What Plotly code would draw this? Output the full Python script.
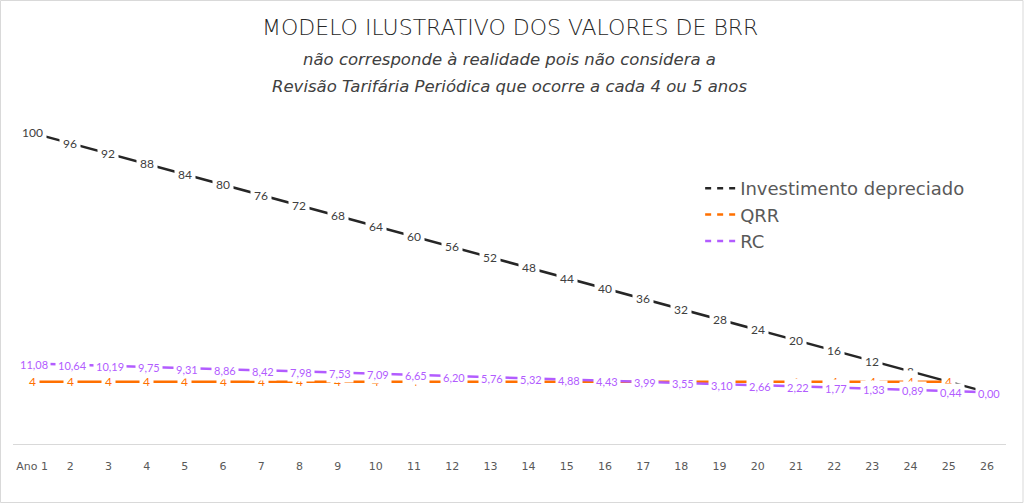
import plotly.graph_objects as go

anos = ["Ano 1"] + [str(i) for i in range(2, 27)]
investimento = [100, 96, 92, 88, 84, 80, 76, 72, 68, 64, 60, 56, 52, 48, 44, 40, 36, 32, 28, 24, 20, 16, 12, 8, 4, 0]
qrr = [4] * 25
rc = [11.08, 10.64, 10.19, 9.75, 9.31, 8.86, 8.42, 7.98, 7.53, 7.09, 6.65, 6.20, 5.76, 5.32, 4.88,
      4.43, 3.99, 3.55, 3.10, 2.66, 2.22, 1.77, 1.33, 0.89, 0.44, 0.00]
inv_labels_shown = 24  # labels for last points are hidden in the original

C_BLACK = "#262626"
C_ORANGE = "#FF7000"
C_PURPLE = "#B25CFF"
FONT = "Lato"
WIDE = "DejaVu Sans"

fig = go.Figure()
series = [
    ("Investimento depreciado", anos, investimento, C_BLACK),
    ("QRR", anos[:len(qrr)], qrr, C_ORANGE),
    ("RC", anos, rc, C_PURPLE),
]
for i, (name, xs, ys, col) in enumerate(series):
    # plotted line (the white label boxes cut it into dashes)
    fig.add_trace(go.Scatter(
        x=xs, y=ys, name=name, mode="lines",
        line=dict(color=col, width=2.5),
        showlegend=False, hoverinfo="skip",
    ))
    # legend entry with dashed symbol
    fig.add_trace(go.Scatter(
        x=[None], y=[None], name=name, mode="lines",
        line=dict(color=col, width=2.5, dash="6px,6px"),
        legendgroup=f"g{i}", showlegend=True, hoverinfo="skip",
    ))

# annotations on a category axis: use the category index as position
annotations = []
for i, y in enumerate(investimento[:inv_labels_shown]):
    annotations.append(dict(x=i, y=y, text=f"{y:g}", showarrow=False,
                            font=dict(family=FONT, size=12, color="#404040"),
                            bgcolor="white", borderpad=3))
for i, y in enumerate(qrr):
    annotations.append(dict(x=i, y=y, text=f"{y:g}", showarrow=False,
                            font=dict(family=FONT, size=12, color=C_ORANGE),
                            bgcolor="white", borderpad=3))
for i, y in enumerate(rc):
    annotations.append(dict(x=i, y=y, text=f"{y:.2f}".replace(".", ","), showarrow=False,
                            font=dict(family=FONT, size=11, color=C_PURPLE),
                            bgcolor="white", borderpad=2, xshift=2, yshift=-1))

# titles
annotations.append(dict(xref="paper", yref="paper", x=0.5, y=(444 - 27) / 363, xanchor="center",
                        yanchor="middle", showarrow=False,
                        text="MODELO ILUSTRATIVO DOS VALORES DE BRR",
                        font=dict(family=WIDE, size=22, color="#262626", weight=200)))
annotations.append(dict(xref="paper", yref="paper", x=0.5, y=(444 - 59) / 363, xanchor="center",
                        yanchor="middle", showarrow=False,
                        text="<i>não corresponde à realidade pois não considera a</i>",
                        font=dict(family=WIDE, size=16.5, color="#404040")))
annotations.append(dict(xref="paper", yref="paper", x=0.5, y=(444 - 87) / 363, xanchor="center",
                        yanchor="middle", showarrow=False,
                        text="<i>Revisão Tarifária Periódica que ocorre a cada 4 ou 5 anos</i>",
                        font=dict(family=WIDE, size=16.5, color="#404040")))

fig.update_layout(
    width=1024, height=503,
    margin=dict(l=13, r=18, t=81, b=59),
    paper_bgcolor="white", plot_bgcolor="white",
    font=dict(family=FONT, color="#595959"),
    annotations=annotations,
    showlegend=True,
    legend=dict(x=0.692, y=0.755, xanchor="left", yanchor="top",
                font=dict(family=WIDE, size=18, color="#595959"),
                bgcolor="rgba(0,0,0,0)", tracegroupgap=0, traceorder="grouped",
                itemwidth=30),
    xaxis=dict(type="category", range=[-0.5, len(anos) - 0.5], showgrid=False, showline=True,
               linecolor="#D9D9D9", linewidth=1, ticks="", ticklabelstandoff=12,
               tickfont=dict(family=WIDE, size=11, color="#595959"),
               zeroline=False, fixedrange=True),
    yaxis=dict(range=[-20, 120], visible=False, showgrid=False, zeroline=False, fixedrange=True),
    shapes=[dict(type="rect", xref="paper", yref="paper",
                 x0=(0.5 - 13) / 993, x1=(1023 - 13) / 993,
                 y0=(444 - 502.5) / 363, y1=(444 - 0.5) / 363,
                 line=dict(color="#D9D9D9", width=1), fillcolor="rgba(0,0,0,0)", layer="below")],
)

fig.write_html("out.html")
